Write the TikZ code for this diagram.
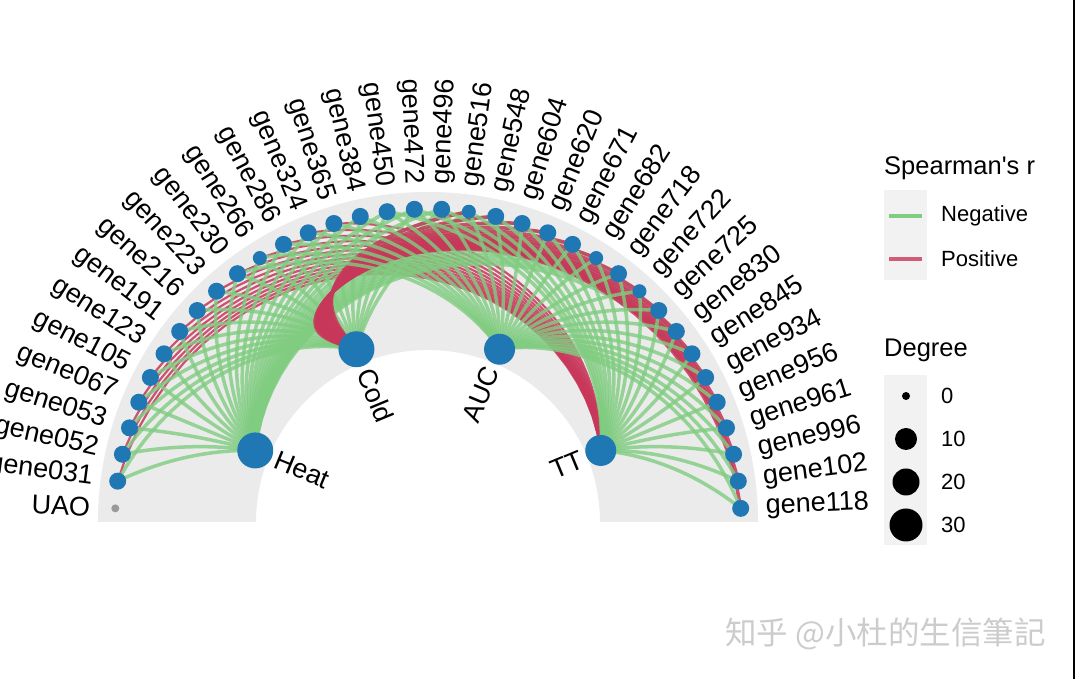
\documentclass[tikz,border=0pt]{standalone}
\usepackage{fontspec}
\setmainfont{Liberation Sans}
\newfontfamily\cjk{Noto Sans CJK SC}
\definecolor{gnode}{RGB}{31,119,180}
\definecolor{egreen}{RGB}{128,204,128}
\definecolor{ered}{RGB}{200,55,90}
\definecolor{bandgray}{RGB}{235,235,235}
\definecolor{keygray}{RGB}{242,242,242}
\begin{document}
\begin{tikzpicture}[x=1pt,y=1pt,
  gline/.style={draw=egreen,line width=3.5pt,opacity=0.8,line join=round},
  rline/.style={draw=ered,line width=3.5pt,opacity=0.85,line join=round},
  rthin/.style={draw=ered,line width=2.2pt,opacity=0.85,line join=round},
  dot/.style={circle,fill=gnode,inner sep=0pt,minimum size=#1},
  lbl/.style={font=\fontsize{27}{30}\selectfont,inner sep=0pt},
  leg/.style={font=\fontsize{22}{25}\selectfont,inner sep=0pt,anchor=west},
  legt/.style={font=\fontsize{25.5}{28}\selectfont,inner sep=0pt,anchor=west}]
\useasboundingbox (0,0) rectangle (1076,679);
\fill[white] (0,0) rectangle (1076,679);
\begin{scope}
\clip (0,0) rectangle (870,679);
\begin{scope}[shift={(428,157)}]
\fill[bandgray] (330,0) arc[start angle=0,end angle=180,radius=330] -- (-172,0) arc[start angle=180,end angle=0,radius=172] -- cycle;
\coordinate (pH) at (157.5:187);
\coordinate (pC) at (112.5:187);
\coordinate (pA) at (67.5:187);
\coordinate (pT) at (22.5:187);
\foreach \k in {0,...,35}{\coordinate (p\k) at ({177.5-5*\k}:313);}
% edges
\foreach \k in {1,...,14}{\pgfmathsetmacro\b{177.5-5*\k}
  \draw[rthin] (pT) -- plot[domain=0:1,samples=30] ({22.5+(\b-22.5)*\x}:{187+126*\x}) -- (p\k);}
\foreach \k in {1,...,30}{\pgfmathsetmacro\b{177.5-5*\k}
  \draw[gline] (pH) -- plot[domain=0:1,samples=30] ({157.5+(\b-157.5)*\x}:{187+126*\x}) -- (p\k);}
\foreach \k in {1,...,19}{\pgfmathsetmacro\b{177.5-5*\k}
  \draw[gline] (pC) -- plot[domain=0:1,samples=30] ({112.5+(\b-112.5)*\x}:{187+126*\x}) -- (p\k);}
\foreach \k in {19,...,35}{\pgfmathsetmacro\b{177.5-5*\k}\pgfmathsetmacro\c{0.45*(112.5-\b)}
  \draw[rline] (pC) -- plot[domain=0:1,samples=50] ({112.5+(\b-112.5)*\x+\c*sin(180*\x)}:{187+126*\x*\x+38*sin(180*\x)}) -- (p\k);}
\foreach \k in {10,...,35}{\pgfmathsetmacro\b{177.5-5*\k}
  \draw[gline] (pA) -- plot[domain=0:1,samples=30] ({67.5+(\b-67.5)*\x}:{187+126*\x}) -- (p\k);}
\foreach \k in {16,...,35}{\pgfmathsetmacro\b{177.5-5*\k}
  \draw[gline] (pT) -- plot[domain=0:1,samples=30] ({22.5+(\b-22.5)*\x}:{187+126*\x}) -- (p\k);}
% outer nodes
\node[circle,fill=black!40,inner sep=0pt,minimum size=8pt] (n0) at (p0) {};
\foreach \k in {1,...,35}{
  \pgfmathsetmacro\s{(\k==11||\k==19||\k==24||\k==26)?14:17}
  \node[dot=\s pt] (n\k) at (p\k) {};}
% inner nodes
\node[dot=36pt] (Heat) at (pH) {};
\node[dot=36pt] (Cold) at (pC) {};
\node[dot=31pt] (AUC) at (pA) {};
\node[dot=31pt] (TT) at (pT) {};
\node[lbl,anchor=west,rotate=-22.5] (tH) at (157.5:165) {Heat};
\node[lbl,anchor=west,rotate=-67.5] (tC) at (112.5:165) {Cold};
\node[lbl,anchor=east,rotate=67.5] (tA) at (67.5:167) {AUC};
\node[lbl,anchor=east,rotate=22.5] (tT) at (22.5:167) {TT};
% outer labels
\foreach \nm [count=\i from 0] in {UAO,gene031,gene052,gene053,gene067,gene105,gene123,gene191,gene216,gene223,gene230,gene266,gene286,gene324,gene365,gene384,gene450,gene472,gene496,gene516,gene548,gene604,gene620,gene671,gene682,gene718,gene722,gene725,gene830,gene845,gene934,gene956,gene961,gene996,gene102,gene118}{
  \pgfmathsetmacro\a{177.5-5*\i}
  \ifnum\i<18
    \node[lbl,anchor=east,rotate=\a-180] (L\i) at (\a:338) {\nm};
  \else
    \node[lbl,anchor=west,rotate=\a] (L\i) at (\a:338) {\nm};
  \fi}
\end{scope}
\end{scope}
% legend
\node[legt] (t1) at (884,511) {Spearman\textquotesingle s r};
\fill[keygray] (884,399) rectangle (927,489);
\draw[egreen,line width=4pt] (889,463) -- (922,463);
\draw[ered,line width=4pt,opacity=0.8] (889,420) -- (922,420);
\node[leg] (l1) at (941,463) {Negative};
\node[leg] (l2) at (941,420) {Positive};
\node[legt] (t2) at (884,329) {Degree};
\fill[keygray] (884,134) rectangle (927,304);
\node[circle,fill=black,inner sep=0pt,minimum size=8pt] (d0) at (906,283) {};
\node[circle,fill=black,inner sep=0pt,minimum size=22pt] (d1) at (906,240) {};
\node[circle,fill=black,inner sep=0pt,minimum size=27pt] (d2) at (906,197) {};
\node[circle,fill=black,inner sep=0pt,minimum size=33pt] (d3) at (906,154) {};
\node[leg] (v0) at (941,283) {0};
\node[leg] (v1) at (941,240) {10};
\node[leg] (v2) at (941,197) {20};
\node[leg] (v3) at (941,154) {30};
\node[anchor=west,inner sep=0pt,text=black!20,font=\cjk\fontsize{31.5}{34}\selectfont] (wm) at (725,45) {知乎 @小杜的生信筆記};
\draw[black,line width=2pt] (1074,0) -- (1074,679);
\end{tikzpicture}
\end{document}
